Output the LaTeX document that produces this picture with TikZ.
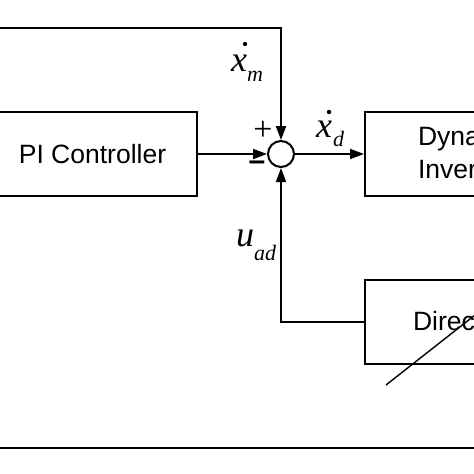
\documentclass[tikz,border=0pt]{standalone}
\usepackage{fontspec}
\setmainfont{Liberation Sans}
\newfontfamily\seriffont{Liberation Serif}
\usetikzlibrary{arrows.meta}
\begin{document}
\begin{tikzpicture}[x=1pt,y=-1pt,line width=2pt,
  blk/.style={draw,minimum width=209pt,minimum height=84pt,inner sep=0pt,font=\fontsize{26.5}{32}\selectfont},
  txt/.style={inner sep=0pt,anchor=base west,font=\fontsize{26.5}{32}\selectfont},
  sig/.style={-{Triangle[length=14pt,width=10pt]}},
  lbl/.style={inner sep=0pt,anchor=base west,font=\seriffont\itshape\fontsize{36}{36}\selectfont},
  sub/.style={inner sep=0pt,anchor=base west,font=\seriffont\itshape\fontsize{22}{22}\selectfont},
  dotmark/.style={fill=black}]
\useasboundingbox (0,0) rectangle (474,474);
\fill[white] (0,0) rectangle (474,474);
\clip (0,0) rectangle (474,474);
% blocks
\node[blk] (pi) at (92.5,154) {PI Controller};
\node[draw,circle,minimum size=26pt,inner sep=0pt] (sum) at (281,154) {};
\node[blk,minimum width=200pt] (di) at (465,154) {};
\node[blk,minimum width=200pt] (da) at (465,322) {};
\node[txt] (dit1) at (417,145) {Dyna};
\node[txt] (dit2) at (417,178) {Inver};
\node[txt] (dat) at (412,330) {Direc};
% connectors
\coordinate (fb) at (-5,28);
\draw[sig] (fb) -| (sum.north);
\draw[sig] (pi.east) -- (sum.west);
\draw[sig] (sum.east) -- (di.west);
\draw[sig] (da.west) -| (sum.south);
% adaptation slash
\coordinate (s1) at (386,385);
\coordinate (s2) at (500,295.4);
\draw[line width=1.4pt] (s1) -- (s2);
% bottom rule
\coordinate (b1) at (-5,448);
\coordinate (b2) at (480,448);
\draw[line width=2.6pt] (b1) -- (b2);
% labels
\node[lbl] (xm) at (230,71) {x};
\node[sub] (xms) at (246,81) {m};
\fill[dotmark] (245,44) circle (2.2pt);
\node[lbl] (xd) at (315,137) {x};
\node[sub] (xds) at (332,146) {d};
\fill[dotmark] (329,112) circle (2.2pt);
\node[lbl] (uad) at (235,246) {u};
\node[sub] (uads) at (253,260) {ad};
\node[inner sep=0pt] (plus) at (263,131) {\seriffont\fontsize{34}{34}\selectfont +};
\node[inner sep=0pt] (minus) at (257,166) {\bfseries\fontsize{30}{30}\selectfont –};
\end{tikzpicture}
\end{document}
